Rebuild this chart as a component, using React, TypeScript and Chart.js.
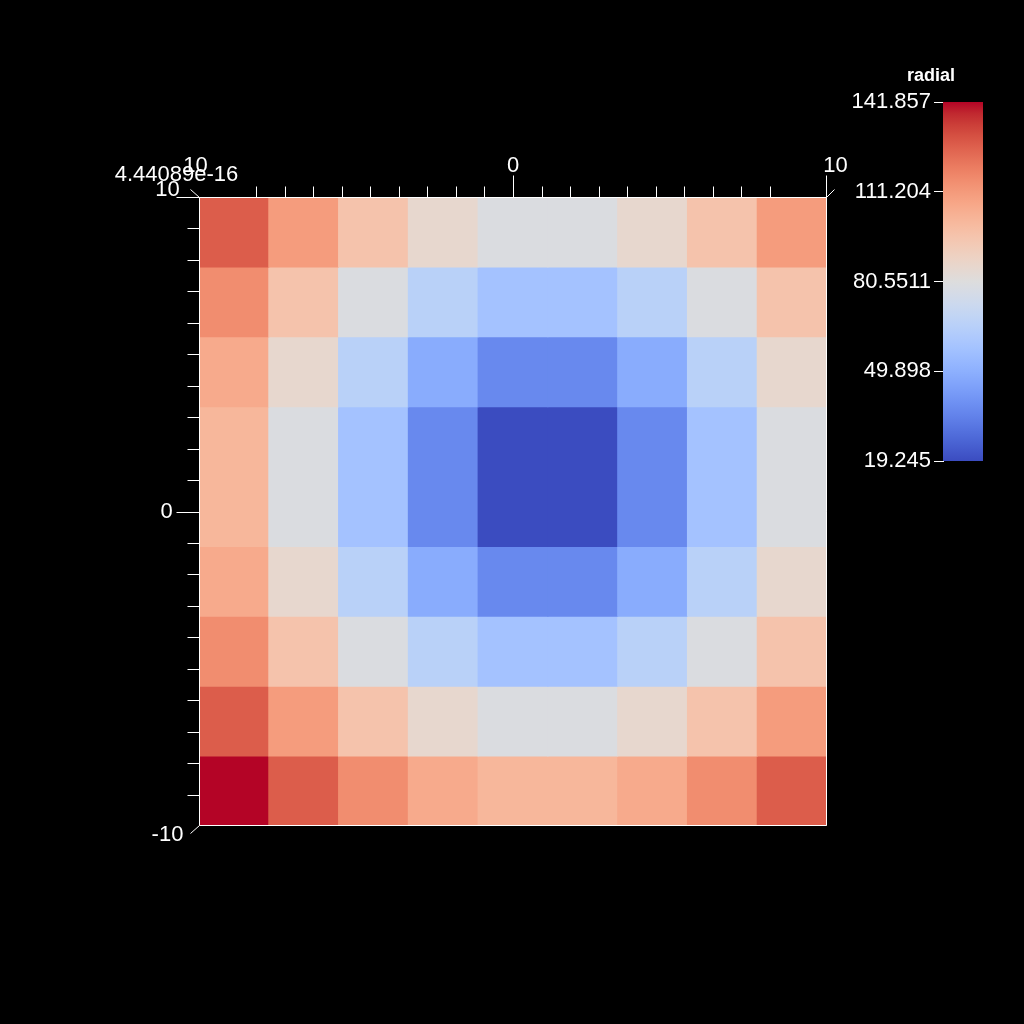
import React, { useEffect, useRef } from 'react';
import { Chart, registerables } from 'chart.js';

Chart.register(...registerables);

// ---------------- data ----------------
const columnLabels = ['c1', 'c2', 'c3', 'c4', 'c5', 'c6', 'c7', 'c8', 'c9'];
// row edges (top to bottom) on the y axis
const rowEdges = [10, 7.7778, 5.5556, 3.3333, 1.1111, -1.1111, -3.3333, -5.5556, -7.7778, -10];
// radial values per cell, rows top to bottom, columns left to right
const row1 = [127.17, 110.55, 96.22, 85.35, 79.35, 79.35, 85.35, 96.22, 110.55];
const row2 = [114.93, 96.22, 79.35, 65.73, 57.74, 57.74, 65.73, 79.35, 96.22];
const row3 = [105.99, 85.35, 65.73, 48.43, 36.85, 36.85, 48.43, 65.73, 85.35];
const row4 = [101.23, 79.35, 57.74, 36.85, 19.25, 19.25, 36.85, 57.74, 79.35];
const row5 = [101.23, 79.35, 57.74, 36.85, 19.25, 19.25, 36.85, 57.74, 79.35];
const row6 = [105.99, 85.35, 65.73, 48.43, 36.85, 36.85, 48.43, 65.73, 85.35];
const row7 = [114.93, 96.22, 79.35, 65.73, 57.74, 57.74, 65.73, 79.35, 96.22];
const row8 = [127.17, 110.55, 96.22, 85.35, 79.35, 79.35, 85.35, 96.22, 110.55];
const row9 = [141.86, 127.17, 114.93, 105.99, 101.23, 101.23, 105.99, 114.93, 127.17];
const radialRows = [row1, row2, row3, row4, row5, row6, row7, row8, row9];

const axisMinorTicks = [-9, -8, -7, -6, -5, -4, -3, -2, -1, 1, 2, 3, 4, 5, 6, 7, 8, 9];
const axisMajorTicks = [0];
const topAxisLabels = ['10', '0', '10'];
const leftAxisLabels = ['10', '0', '-10'];
const zAxisLabel = '4.44089e-16';

const colorbarTitle = 'radial';
const colorbarMin = 19.245;
const colorbarMax = 141.857;
const colorbarTicks = [19.245, 49.898, 80.5511, 111.204, 141.857];
const colorbarLabels = ['19.245', '49.898', '80.5511', '111.204', '141.857'];

// Cool to warm colour map (Moreland)
const coolwarm: number[][] = [
  [59, 76, 192], [68, 90, 204], [77, 104, 215], [87, 117, 225], [98, 130, 234],
  [108, 142, 241], [119, 154, 247], [130, 165, 251], [141, 176, 254], [152, 185, 255],
  [163, 194, 255], [174, 201, 253], [184, 208, 249], [194, 213, 244], [204, 217, 238],
  [213, 219, 230], [221, 221, 221], [229, 216, 209], [236, 211, 197], [241, 204, 185],
  [245, 196, 173], [247, 187, 160], [247, 177, 148], [247, 166, 135], [244, 154, 123],
  [241, 141, 111], [236, 127, 99], [229, 112, 88], [222, 96, 77], [213, 80, 66],
  [203, 62, 56], [192, 40, 47], [180, 4, 38],
];

function colorAt(t: number): string {
  const tt = Math.max(0, Math.min(1, t));
  const pos = tt * (coolwarm.length - 1);
  const i = Math.min(coolwarm.length - 2, Math.floor(pos));
  const f = pos - i;
  const a = coolwarm[i];
  const b = coolwarm[i + 1];
  const c = [0, 1, 2].map((k) => Math.round(a[k] + (b[k] - a[k]) * f));
  return `rgb(${c[0]},${c[1]},${c[2]})`;
}

function colorFor(v: number): string {
  return colorAt((v - colorbarMin) / (colorbarMax - colorbarMin));
}

const FONT = '"Liberation Sans", Arial, sans-serif';

const cubeAxesPlugin = {
  id: 'cubeAxes',
  afterDraw(chart: any) {
    const ctx = chart.ctx as CanvasRenderingContext2D;
    const { left, right, top, bottom } = chart.chartArea;
    const xs = chart.scales.xv;
    const ys = chart.scales.y;
    const L = Math.round(left) + 0.5;
    const R = Math.round(right) - 0.5;
    const T = Math.round(top) + 0.5;
    const B = Math.round(bottom) - 0.5;
    ctx.save();
    ctx.strokeStyle = '#ffffff';
    ctx.lineWidth = 1;
    const line = (x1: number, y1: number, x2: number, y2: number) => {
      ctx.beginPath();
      ctx.moveTo(x1, y1);
      ctx.lineTo(x2, y2);
      ctx.stroke();
    };
    // frame
    line(L, T, R, T);
    line(L, B, R, B);
    line(L, T, L, B);
    line(R, T, R, B);
    // top axis ticks
    for (const v of axisMinorTicks) {
      const x = Math.round(xs.getPixelForValue(v)) + 0.5;
      line(x, T, x, T - 11);
    }
    for (const v of axisMajorTicks) {
      const x = Math.round(xs.getPixelForValue(v)) + 0.5;
      line(x, T, x, T - 22);
    }
    line(R, T, R, T - 22);
    // left axis ticks
    for (const v of axisMinorTicks) {
      const y = Math.round(ys.getPixelForValue(v)) + 0.5;
      line(L - 12, y, L, y);
    }
    for (const v of axisMajorTicks) {
      const y = Math.round(ys.getPixelForValue(v)) + 0.5;
      line(L - 23, y, L, y);
    }
    line(L - 23, T, L, T);
    // perspective diagonals
    line(L, T, L - 9, T - 8);
    line(R, T, R + 8, T - 8);
    line(L, B, L - 9, B + 8);

    // labels
    ctx.fillStyle = '#ffffff';
    ctx.font = `22px ${FONT}`;
    ctx.textAlign = 'center';
    ctx.textBaseline = 'middle';
    const x0 = xs.getPixelForValue(0);
    const y0 = ys.getPixelForValue(0);
    ctx.fillText(topAxisLabels[0], L - 4, T - 32);
    ctx.fillText(topAxisLabels[1], x0, T - 32);
    ctx.fillText(topAxisLabels[2], R + 9, T - 32);
    ctx.fillText(zAxisLabel, L - 23, T - 23);
    ctx.fillText(leftAxisLabels[0], L - 32, T - 8);
    ctx.fillText(leftAxisLabels[1], L - 33, y0);
    ctx.fillText(leftAxisLabels[2], L - 32, B + 9);
    ctx.restore();
  },
};

const colorbarTitlePlugin = {
  id: 'cbTitle',
  afterDraw(chart: any) {
    const ctx = chart.ctx as CanvasRenderingContext2D;
    ctx.save();
    ctx.fillStyle = '#ffffff';
    ctx.font = `bold 18px ${FONT}`;
    ctx.textAlign = 'center';
    ctx.textBaseline = 'middle';
    ctx.fillText(colorbarTitle, 91, 16);
    ctx.restore();
  },
};

export default function App() {
  const mainRef = useRef<HTMLCanvasElement>(null);
  const barRef = useRef<HTMLCanvasElement>(null);

  useEffect(() => {
    document.body.style.margin = '0';
    document.body.style.background = '#000';

    const datasets = radialRows.map((vals, r) => ({
      label: `row${r + 1}`,
      data: vals.map(() => [rowEdges[r + 1], rowEdges[r]]),
      backgroundColor: vals.map((v) => colorFor(v)),
      borderWidth: 0,
      barPercentage: 1,
      categoryPercentage: 1,
      grouped: false,
      inflateAmount: 0.5,
    }));

    const main = new Chart(mainRef.current as HTMLCanvasElement, {
      type: 'bar',
      data: { labels: columnLabels, datasets: datasets as any },
      options: {
        responsive: false,
        devicePixelRatio: 1,
        animation: false,
        layout: { padding: { left: 199, top: 197, right: 197, bottom: 198 } },
        plugins: { legend: { display: false }, tooltip: { enabled: false } },
        scales: {
          x: { type: 'category', display: false, offset: true },
          xv: { type: 'linear', axis: 'x', position: 'top', min: -10, max: 10, display: false },
          y: { type: 'linear', min: -10, max: 10, display: false },
        } as any,
      },
      plugins: [cubeAxesPlugin],
    });

    const cb = new Chart(barRef.current as HTMLCanvasElement, {
      type: 'bar',
      data: {
        labels: [colorbarTitle],
        datasets: [
          {
            data: [[colorbarMin, colorbarMax]] as any,
            backgroundColor: (c: any) => {
              const area = c.chart.chartArea;
              if (!area) return colorAt(0.5);
              const g = c.chart.ctx.createLinearGradient(0, area.bottom, 0, area.top);
              coolwarm.forEach((_, i) => g.addColorStop(i / (coolwarm.length - 1), colorAt(i / (coolwarm.length - 1))));
              return g;
            },
            borderWidth: 0,
            barPercentage: 1,
            categoryPercentage: 1,
          },
        ],
      },
      options: {
        responsive: false,
        devicePixelRatio: 1,
        animation: false,
        layout: { padding: { left: 0, top: 42, right: 17, bottom: 19 } },
        plugins: { legend: { display: false }, tooltip: { enabled: false } },
        scales: {
          x: { type: 'category', display: false },
          y: {
            type: 'linear',
            position: 'left',
            min: colorbarMin,
            max: colorbarMax,
            afterBuildTicks: (scale: any) => {
              scale.ticks = colorbarTicks.map((v) => ({ value: v }));
            },
            afterFit: (scale: any) => {
              scale.width = 103;
            },
            ticks: {
              autoSkip: false,
              color: '#ffffff',
              padding: 3,
              font: { family: FONT, size: 22 },
              callback: (_v: any, i: number) => colorbarLabels[i],
            },
            grid: {
              drawOnChartArea: false,
              drawTicks: true,
              tickLength: 9,
              tickColor: '#ffffff',
              color: '#ffffff',
            },
            border: { display: true, color: '#ffffff', width: 1 },
          },
        } as any,
      },
      plugins: [colorbarTitlePlugin],
    });

    return () => {
      main.destroy();
      cb.destroy();
    };
  }, []);

  return (
    <div style={{ position: 'relative', width: 1024, height: 1024, background: '#000' }}>
      <canvas
        ref={mainRef}
        width={1024}
        height={1024}
        style={{ position: 'absolute', left: 0, top: 0, width: 1024, height: 1024 }}
      />
      <canvas
        ref={barRef}
        width={160}
        height={420}
        style={{ position: 'absolute', left: 840, top: 60, width: 160, height: 420 }}
      />
    </div>
  );
}
